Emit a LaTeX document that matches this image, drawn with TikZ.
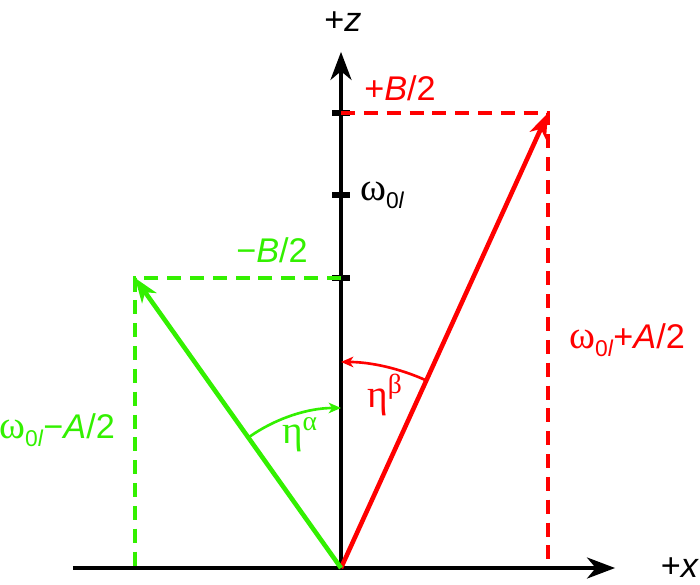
\documentclass[tikz,border=0pt]{standalone}
\usepackage{fontspec}
\setmainfont{Liberation Sans}
\newfontfamily\grk[Scale=1.15]{Liberation Serif}
\usetikzlibrary{arrows.meta}
\definecolor{red}{RGB}{255,0,0}
\definecolor{green}{RGB}{51,240,0}

\tikzset{
  axis/.style={line width=1.9pt,-{Stealth[length=16pt,width=12pt,inset=5pt]}},
  tick/.style={line width=3.2pt},
  vec/.style={line width=2.6pt,-{Stealth[length=14pt,width=10pt,inset=4pt]}},
  proj/.style={line width=2pt,dash pattern=on 8pt off 5pt},
  ang/.style={line width=1.5pt,-{Stealth[length=7pt,width=6pt,inset=2pt]}},
  lbl/.style={font=\fontsize{19.5}{23}\selectfont,inner sep=1pt}
}
\newcommand{\wol}{{\grk ω}\raisebox{-0.45ex}{\fontsize{13}{15}\selectfont 0\textit{l}}}

\begin{document}
\begin{tikzpicture}[scale=0.02]
		\useasboundingbox (-341,-16) rectangle (359,568);
		% axes
		\coordinate (O) at (0,0);
		\coordinate (xl) at (-268,0);
		\coordinate (xr) at (274,0);
		\coordinate (zt) at (0,516);
		\draw[axis] (xl) -- (xr);
		\draw[axis] (O) -- (zt);
		\node[lbl] (xlab) at (339,0) {+\textit{x}};
		\node[lbl] (zlab) at (2,546) {+\textit{z}};
		% ticks on z
		\foreach \n/\z in {tp/455, tm/373, tn/290}{
			\coordinate (\n) at (0,\z);
			\draw[tick] (-9,\z) -- (9,\z);
		}
		% vectors
		\coordinate (R) at (207,455);
		\coordinate (G) at (-206,290);
		\draw[proj, red] (tp) -- (R) -- (R |- O);
		\draw[proj, green] (tn) -- (G) -- (G |- O);
		\draw[vec, red] (O) -- (R);
		\draw[vec, green] (O) -- (G);
		% angles
		\coordinate (Ga) at (125.4:160);
		\coordinate (Ra) at (65.5:206);
		\draw[ang, green] (Ga) arc[start angle=125.4, end angle=90, radius=160];
		\draw[ang, red] (Ra) arc[start angle=65.5, end angle=90, radius=206];
		% labels
		\node[lbl, red] (bp) at (59,480) {+\textit{B}/2};
		\node[lbl, anchor=west] (w0) at (17,373) {\wol};
		\node[lbl, green] (bm) at (-69,318) {\textminus\textit{B}/2};
		\node[lbl, red] (ap) at (286,228) {\wol+\textit{A}/2};
		\node[lbl, green] (am) at (-284,138) {\wol\textminus\textit{A}/2};
		\node[lbl, green] (ea) at (-41,133) {{\grk η}\textsuperscript{\grk α}};
		\node[lbl, red] (eb) at (44,173) {{\grk η}\textsuperscript{\grk β}};
\end{tikzpicture}
\end{document}
